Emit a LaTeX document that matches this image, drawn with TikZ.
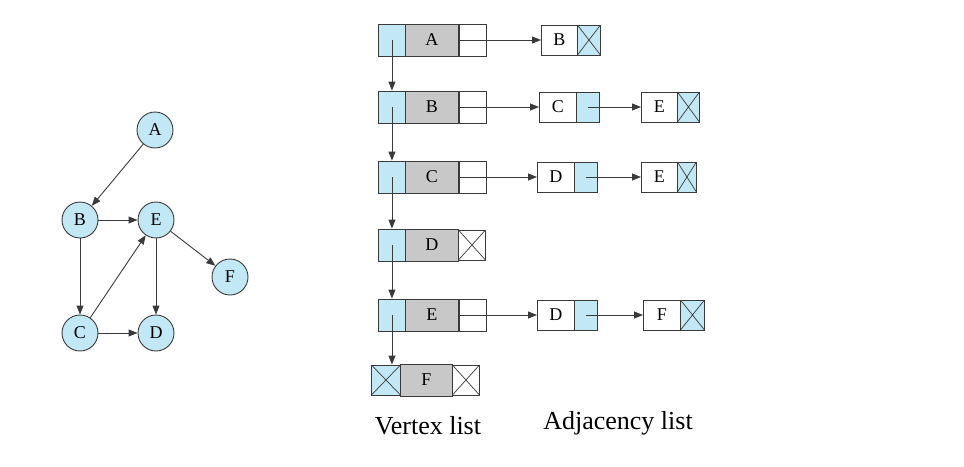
\documentclass[tikz,border=0pt]{standalone}
\usepackage{fontspec}
\setmainfont{Liberation Serif}
\usetikzlibrary{arrows.meta}
\definecolor{lb}{HTML}{C3E8F5}
\definecolor{gr}{HTML}{C8C8C8}
\definecolor{ln}{HTML}{3A3A3A}
\tikzset{
 cell/.style={draw=ln,line width=0.9pt,minimum height=30pt,inner sep=0pt,font=\fontsize{18pt}{18pt}\selectfont,anchor=west},
 vcell/.style={cell,minimum height=32pt},
 xcell/.style={cell,path picture={\draw[ln,line width=0.7pt](path picture bounding box.north west)--(path picture bounding box.south east)(path picture bounding box.south west)--(path picture bounding box.north east);}},
 vtx/.style={circle,draw=ln,line width=0.9pt,fill=lb,minimum size=36pt,inner sep=0pt,font=\fontsize{18pt}{18pt}\selectfont},
 arr/.style={draw=ln,line width=0.9pt,-{Triangle[length=9pt,width=7pt]}},
 lbl/.style={font=\fontsize{26pt}{26pt}\selectfont}
}
\begin{document}
\begin{tikzpicture}[x=1pt,y=-1pt]
\useasboundingbox (0,0) rectangle (964,466);
% graph
\node[vtx] (gA) at (155,130) {A};
\node[vtx] (gB) at (80,220) {B};
\node[vtx] (gE) at (156,220) {E};
\node[vtx] (gF) at (230,277) {F};
\node[vtx] (gC) at (80,333) {C};
\node[vtx] (gD) at (156,333) {D};
\draw[arr] (gA)--(gB);
\draw[arr] (gB)--(gE);
\draw[arr] (gB)--(gC);
\draw[arr] (gC)--(gE);
\draw[arr] (gC)--(gD);
\draw[arr] (gE)--(gD);
\draw[arr] (gE)--(gF);
% vertex list
\foreach \n/\y in {A/40,B/107,C/177,D/245,E/315}{
 \node[vcell,fill=lb,minimum width=27pt] (p\n) at (378,\y) {};
 \node[vcell,fill=gr,minimum width=53pt] (n\n) at (405,\y) {\n};
}
\foreach \n in {A,B,C,E}{\node[vcell,fill=white,minimum width=27pt] (q\n) at (nA.east|-n\n.east) [anchor=west] {};}
\node[vcell,xcell,fill=white,minimum width=27pt] (qD) at (458,245) {};
\node[vcell,xcell,fill=lb,minimum width=29pt] (pF) at (371,380) {};
\node[vcell,fill=gr,minimum width=52pt] (nF) at (400,380) {F};
\node[vcell,xcell,fill=white,minimum width=27pt] (qF) at (452,380) {};
\foreach \a/\b in {A/B,B/C,C/D,D/E}{\draw[arr] (p\a.center)--(p\b.north);}
\draw[arr] (pE.center)--(pE.center|-pF.north);
% adjacency list
\node[cell,fill=white,minimum width=36pt] (aB) at (541,40) {B};
\node[cell,xcell,fill=lb,minimum width=23pt] (aBx) at (577,40) {};
\node[cell,fill=white,minimum width=37pt] (bC) at (539,107) {C};
\node[cell,fill=lb,minimum width=23pt] (bCp) at (576,107) {};
\node[cell,fill=white,minimum width=36pt] (bE) at (641,107) {E};
\node[cell,xcell,fill=lb,minimum width=22pt] (bEx) at (677,107) {};
\node[cell,fill=white,minimum width=37pt] (cD) at (537,177) {D};
\node[cell,fill=lb,minimum width=23pt] (cDp) at (574,177) {};
\node[cell,fill=white,minimum width=36pt] (cE) at (641,177) {E};
\node[cell,xcell,fill=lb,minimum width=19pt] (cEx) at (677,177) {};
\node[cell,fill=white,minimum width=37pt] (eD) at (537,315) {D};
\node[cell,fill=lb,minimum width=23pt] (eDp) at (574,315) {};
\node[cell,fill=white,minimum width=37pt] (eF) at (643,315) {F};
\node[cell,xcell,fill=lb,minimum width=24pt] (eFx) at (680,315) {};
\draw[arr] ([xshift=-13pt]qA.center)--(aB.west);
\draw[arr] ([xshift=-13pt]qB.center)--(bC.west);
\draw[arr] (bCp.center)--(bE.west);
\draw[arr] ([xshift=-13pt]qC.center)--(cD.west);
\draw[arr] (cDp.center)--(cE.west);
\draw[arr] ([xshift=-13pt]qE.center)--(eD.west);
\draw[arr] (eDp.center)--(eF.west);
\node[lbl] (vl) at (428,426) {Vertex list};
\node[lbl] (al) at (618,423) {Adjacency list};
\end{tikzpicture}
\end{document}
